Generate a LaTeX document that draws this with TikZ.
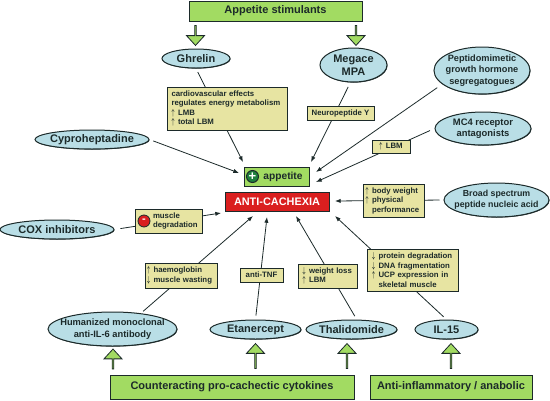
\documentclass[tikz,border=0pt]{standalone}
\usepackage{amsmath}
\usepackage{fontspec}
\setmainfont{Liberation Sans}
\usepackage{xcolor}
\usepackage{tikz}
\usetikzlibrary{arrows.meta,shapes.geometric,shapes.arrows,shadows}
\definecolor{CBlue}{HTML}{B9DEE6}
\definecolor{CKhaki}{HTML}{E7E4A2}
\definecolor{CGreen}{HTML}{A2DB62}
\definecolor{CRed}{HTML}{DA1F1F}
\definecolor{CPlus}{HTML}{1E7F3C}
\definecolor{CInk}{HTML}{1C2A2A}
\newcommand{\upm}{\makebox[6.5pt][l]{\scalebox{0.6}[1.1]{$\boldsymbol{\uparrow}$}}}
\newcommand{\dnm}{\makebox[6.5pt][l]{\scalebox{0.6}[1.1]{$\boldsymbol{\downarrow}$}}}
\newcommand{\skipm}{\hspace*{6.5pt}}

\begin{document}
\begin{tikzpicture}[
  x=1pt,y=-1pt,
  every node/.style={font=\bfseries,text=CInk},
  hint/.style={general shadow={fill=CInk,shadow xshift=0.5pt,shadow yshift=-0.6pt}},
  oval/.style={ellipse,draw=CInk,line width=1pt,fill=CBlue,inner xsep=-15pt,inner ysep=-6pt,hint,
    align=center,font=\bfseries\fontsize{11}{13}\selectfont},
  note/.style={draw=CInk,line width=1pt,fill=CKhaki,inner sep=0pt,hint,
    align=left,font=\bfseries\fontsize{7.8}{9.5}\selectfont},
  banner/.style={draw=CInk,line width=1pt,fill=CGreen,inner sep=0pt,hint,
    font=\bfseries\fontsize{11}{13}\selectfont},
  a/.style={-{Latex[length=2mm,width=1.5mm]},line width=0.8pt,color=CInk},
  fat/.style={single arrow,draw=CInk,line width=0.8pt,fill=CGreen,inner sep=0pt,
    minimum width=18pt,single arrow head extend=4pt,single arrow tip angle=85}
]
  \useasboundingbox (0,0) rectangle (550,400);
  % ovals
  \node[oval,minimum width=68pt,minimum height=19pt] (ghrelin) at (196,58.5) {Ghrelin};
  \node[oval,minimum width=67pt,minimum height=34pt] (megace) at (353.5,65) {Megace\\MPA};
  \node[oval,minimum width=96pt,minimum height=47pt,font=\bfseries\fontsize{9.2}{11.7}\selectfont] (pepti) at (482,70.5)
    {Peptidomimetic\\growth hormone\\segregatogues};
  \node[oval,minimum width=96pt,minimum height=33pt,font=\bfseries\fontsize{9.4}{11}\selectfont] (mcfour) at (483,128.5)
    {MC4 receptor\\antagonists};
  \node[oval,minimum width=114pt,minimum height=19pt] (cypro) at (92,139.5) {Cyproheptadine};
  \node[oval,minimum width=105pt,minimum height=34pt,font=\bfseries\fontsize{8.8}{11}\selectfont] (broad) at (496.5,200)
    {Broad spectrum\\peptide nucleic acid};
  \node[oval,minimum width=114pt,minimum height=19pt] (cox) at (57,229.5) {COX inhibitors};
  \node[oval,minimum width=129pt,minimum height=34pt,font=\bfseries\fontsize{9.3}{11.3}\selectfont] (ilsix) at (112.5,329)
    {Humanized monoclonal\\anti-IL-6 antibody};
  \node[oval,minimum width=91pt,minimum height=19pt] (etan) at (255.5,329.5) {Etanercept};
  \node[oval,minimum width=91pt,minimum height=19pt] (thal) at (351.5,329.5) {Thalidomide};
  \node[oval,minimum width=63pt,minimum height=19pt] (ilfifteen) at (446.5,329.5) {IL-15};
  % arrow ends around the two centre boxes
  \coordinate (inghrelin) at (243,162);
  \coordinate (inmegace) at (311,162);
  \coordinate (inpepti) at (316,172);
  \coordinate (inmcfour) at (316,182);
  \coordinate (incypro) at (239,173);
  \coordinate (inbroad) at (335,201);
  \coordinate (incox) at (221,213);
  \coordinate (inilsix) at (253,216);
  \coordinate (inetan) at (267,217);
  \coordinate (inthal) at (296,216);
  \coordinate (inilfifteen) at (335,216);
  \draw[a,shorten <=4pt] (ghrelin.south) -- (inghrelin);
  \draw[a,shorten <=5pt] (megace.260) -- (inmegace);
  \draw[a,shorten <=6pt] (pepti.199) -- (inpepti);
  \draw[a,shorten <=5pt] (mcfour.west) -- (inmcfour);
  \draw[a,shorten <=4pt] (cypro.east) -- (incypro);
  \draw[a,shorten <=4pt] (broad.west) -- (inbroad);
  \draw[a,shorten <=6pt] (cox.east) -- (incox);
  \draw[a,shorten <=3pt] (ilsix.29) -- (inilsix);
  \draw[a,shorten <=4pt] (etan.north) -- (inetan);
  \draw[a,shorten <=4pt] (thal.62) -- (inthal);
  \draw[a,shorten <=4pt] (ilfifteen.north) -- (inilfifteen);
  % boxes on top of the lines
  \node[note,minimum width=120pt,minimum height=43pt,text width=111pt] (cardio) at (227,108.5)
    {cardiovascular effects\\regulates energy metabolism\\\upm LMB\\\upm total LBM};
  \node[note,minimum width=67pt,minimum height=14pt,align=center] (npy) at (340.5,113) {Neuropeptide Y};
  \node[note,minimum width=38pt,minimum height=13pt,align=center] (lbm) at (391,146.5) {\upm LBM};
  \node[note,minimum width=61pt,minimum height=33pt,text width=56pt] (body) at (393.5,200.5)
    {\upm body weight\\\upm physical\\\skipm performance};
  \node[note,minimum width=67pt,minimum height=24pt,text width=61pt] (muscle) at (168.5,221)
    {\hspace*{15pt}muscle\\\hspace*{15pt}degradation};
  \node[note,minimum width=72pt,minimum height=25pt,text width=68pt] (haemo) at (181,275.5)
    {\upm haemoglobin\\\dnm muscle wasting};
  \node[note,minimum width=43pt,minimum height=14pt,align=center] (tnf) at (261.5,275) {anti-TNF};
  \node[note,minimum width=59pt,minimum height=24pt,text width=50pt] (weight) at (327.5,276)
    {\dnm weight loss\\\upm LBM};
  \node[note,minimum width=91pt,minimum height=42pt,text width=81pt] (protein) at (412.5,270)
    {\dnm protein degradation\\\dnm DNA fragmentation\\\upm UCP expression in\\\skipm skeletal muscle};
  % centre
  \node[draw=CInk,line width=1pt,fill=CGreen,minimum width=65pt,minimum height=19pt,inner sep=0pt,hint,
    font=\bfseries\fontsize{10.2}{12}\selectfont] (appetite) at (276.5,176.5) {\hspace*{13pt}appetite};
  \node[circle,draw=CInk,line width=1pt,fill=CPlus,minimum size=12pt,inner sep=0pt,text=white,
    font=\bfseries\fontsize{13}{13}\selectfont] (plus) at (252.5,176.5) {+};
  \node[draw=CInk,line width=1pt,fill=CRed,minimum width=104pt,minimum height=19pt,inner sep=0pt,text=white,hint,
    font=\bfseries\fontsize{10.9}{13}\selectfont] (cachexia) at (277,201.5) {ANTI-CACHEXIA};
  \node[circle,draw=CInk,line width=0.8pt,fill=CRed,minimum size=12pt,inner sep=0pt,text=white,
    font=\bfseries\fontsize{11}{11}\selectfont] (minus) at (144,221) {-};
  % banners and fat arrows
  \node[banner,minimum width=173pt,minimum height=20pt] (stim) at (275.5,11) {Appetite stimulants};
  \node[banner,minimum width=244pt,minimum height=24pt] (counter) at (232,387) {Counteracting pro-cachectic cytokines};
  \node[banner,minimum width=162pt,minimum height=24pt] (anti) at (451,387) {Anti-inflammatory / anabolic};
  \node[fat,rotate=-90,minimum height=20pt] (stimghrelin) at (195.5,35) {};
  \node[fat,rotate=-90,minimum height=20pt] (stimmegace) at (356,35) {};
  \node[fat,rotate=90,minimum height=20pt] (cntilsix) at (113,359.5) {};
  \node[fat,rotate=90,minimum height=25pt] (cntetan) at (255.5,356.5) {};
  \node[fat,rotate=90,minimum height=25pt] (cntthal) at (347,356.5) {};
  \node[fat,rotate=90,minimum height=25pt] (antiil) at (451,356.5) {};
\end{tikzpicture}
\end{document}
